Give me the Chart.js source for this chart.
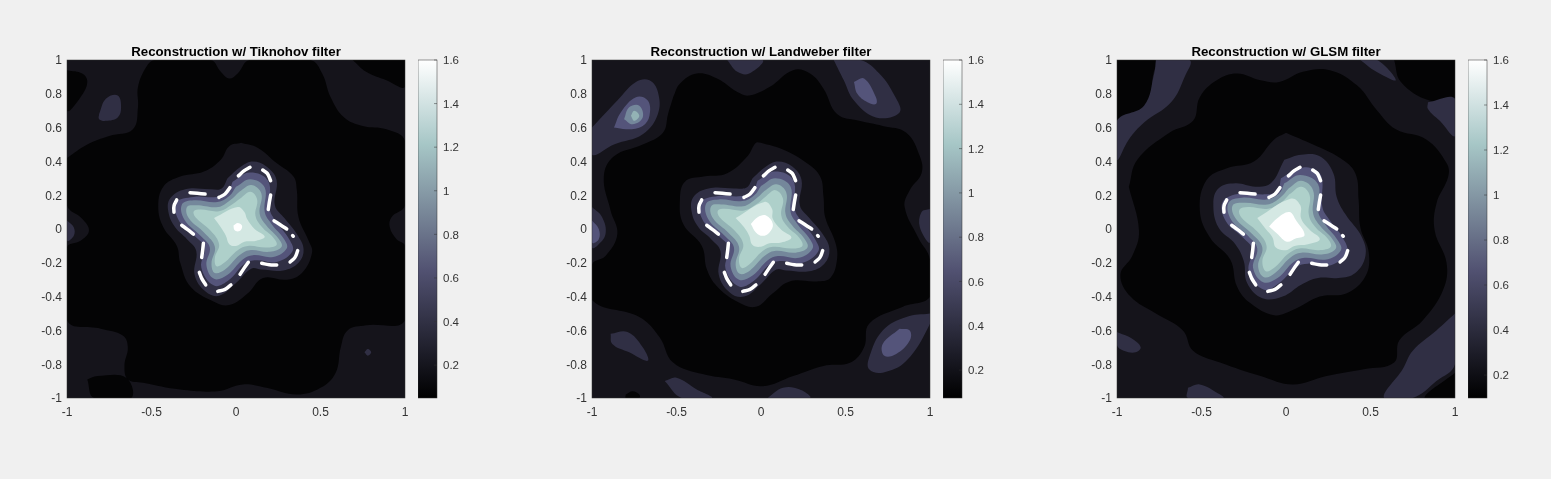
<!DOCTYPE html>
<html>
<head>
<meta charset="utf-8">
<title>Reconstruction filters</title>
<script src="https://cdn.jsdelivr.net/npm/chart.js@4/dist/chart.umd.min.js"></script>
<style>
  html, body { margin: 0; background: #f0f0f0; }
  body { position: relative; width: 1551px; height: 479px; overflow: hidden; }
  canvas { position: absolute; filter: blur(0.4px); }
</style>
</head>
<body>
<script>
//
// Values. Every contour is a list of [x, y] in axis units
//
const titles = ['Reconstruction w/ Tiknohov filter', 'Reconstruction w/ Landweber filter', 'Reconstruction w/ GLSM filter'];
const axisTicksX = [-1, -0.5, 0, 0.5, 1];
const axisTicksY = [-1, -0.8, -0.6, -0.4, -0.2, 0, 0.2, 0.4, 0.6, 0.8, 1];
const colorbarTicks = [0.2, 0.4, 0.6, 0.8, 1, 1.2, 1.4, 1.6];
const colorbarMins = [0.049, 0.074, 0.098];
const colorbarMax = 1.6;
const boneStops = [[0, '#000000'], [0.375, '#515171'], [0.75, '#a6c6c6'], [1, '#ffffff']];
// one fill per contour band: <0.2, 0.2, 0.4, ... 1.6
const bandColors = ['#040405', '#15141b', '#302f44', '#54547a', '#74879b', '#93b3b5', '#aed0ca', '#d4e8e3', '#ffffff'];

// The true boundary, dashed white on all three panels (null = gap between dashes)
const boundaryDashes = [
  [.014,.314],[.049,.345],[.083,.365], null,
  [.158,.349],[.185,.329],[.205,.286], null,
  [.205,.201],[.197,.156],[.191,.116], null,
  [.225,.049],[.264,.024],[.300,0], null,
  [.335,-.039],[.339,-.043], null,
  [.365,-.128],[.349,-.168],[.320,-.195], null,
  [.241,-.213],[.197,-.211],[.152,-.203], null,
  [.073,-.197],[.047,-.233],[.024,-.268], null,
  [-.030,-.331],[-.065,-.357],[-.108,-.369], null,
  [-.179,-.331],[-.203,-.292],[-.217,-.256], null,
  [-.203,-.168],[-.197,-.124],[-.193,-.085], null,
  [-.252,-.030],[-.288,-.002],[-.321,.022], null,
  [-.367,.099],[-.367,.136],[-.351,.172], null,
  [-.272,.215],[-.229,.211],[-.183,.207], null,
  [-.101,.187],[-.065,.207],[-.036,.245]
];

// Tikhonov panel
const tikBlackMain = [[-1,.42],[-.88,.50],[-.75,.55],[-.61,.59],[-.58,.72],[-.58,.84],[-.53,.96],[-.48,1],[-.15,1],[-.09,.93],[-.04,.89],[.01,.92],[.08,1],[.44,1],[.51,.92],[.56,.78],[.64,.66],[.75,.61],[.89,.59],[1,.52],[1,.14],[.92,.07],[.91,.01],[.95,-.06],[1,-.10],[1,-.54],[.77,-.57],[.66,-.60],[.62,-.70],[.59,-.85],[.50,-.94],[.36,-.98],[.18,-.94],[.04,-.92],[-.11,-.96],[-.33,-.95],[-.55,-.91],[-.64,-.89],[-.66,-.81],[-.64,-.70],[-.67,-.63],[-.80,-.59],[-1,-.54],[-1,-.11],[-.92,-.07],[-.87,-.01],[-.91,.06],[-1,.14]];
const tikBlackTopLeft = [[-1,.94],[-.91,.92],[-.88,.87],[-.92,.78],[-1,.70]];
const tikBlackTopRight = [[.69,1],[.77,.93],[.89,.88],[1,.84],[1,1]];
const tikBlackBottom = [[-.88,-.89],[-.82,-.87],[-.65,-.88],[-.62,-1],[-.84,-1]];
const tikIslandUpper = [[-.81,.68],[-.77,.77],[-.70,.79],[-.68,.72],[-.70,.66],[-.77,.64],[-.81,.65]];
const tikIslandLeft = [[-1,.05],[-.96,.01],[-.96,-.04],[-1,-.07]];
const tikIslandSpot = [[.76,-.73],[.78,-.71],[.80,-.73],[.78,-.75]];
const tikLevel02 = [[.03,.51],[.13,.48],[.24,.39],[.34,.31],[.36,.23],[.37,.07],[.43,-.07],[.45,-.14],[.39,-.26],[.30,-.30],[.16,-.29],[.07,-.38],[-.04,-.45],[-.13,-.43],[-.27,-.34],[-.33,-.20],[-.35,-.10],[-.43,.01],[-.46,.13],[-.43,.25],[-.33,.31],[-.19,.34],[-.09,.41],[-.04,.49],[.03,.51]];
const tikLevel04 = [[-.05,.30],[.03,.37],[.10,.40],[.18,.37],[.24,.29],[.23,.14],[.29,.06],[.36,-.03],[.40,-.12],[.37,-.2],[.28,-.245],[.15,-.24],[.09,-.235],[0,-.32],[-.10,-.395],[-.18,-.37],[-.245,-.27],[-.235,-.13],[-.29,-.06],[-.36,.01],[-.40,.10],[-.39,.18],[-.30,.235],[-.15,.235],[-.085,.24]];
const tikLevel06 = [[-.02,.28],[.08,.335],[.19,.285],[.20,.115],[.24,.04],[.315,-.06],[.335,-.13],[.24,-.195],[.12,-.185],[.05,-.205],[-.04,-.30],[-.13,-.335],[-.205,-.23],[-.185,-.11],[-.235,-.05],[-.335,.045],[-.355,.155],[-.25,.19],[-.115,.19],[-.045,.225]];
const tikLevel08 = [[0,.25],[.085,.295],[.17,.245],[.17,.10],[.21,.03],[.285,-.06],[.30,-.115],[.22,-.165],[.10,-.155],[.04,-.18],[-.05,-.27],[-.13,-.295],[-.175,-.215],[-.155,-.11],[-.21,-.04],[-.305,.055],[-.32,.145],[-.25,.17],[-.11,.16],[-.04,.195]];
const tikLevel10 = [[.02,.22],[.09,.26],[.15,.21],[.14,.09],[.18,.02],[.25,-.055],[.27,-.105],[.20,-.135],[.08,-.125],[.02,-.155],[-.065,-.24],[-.125,-.26],[-.145,-.205],[-.125,-.105],[-.185,-.025],[-.28,.065],[-.29,.13],[-.235,.14],[-.105,.13],[-.035,.17]];
const tikLevel12 = [[.025,.18],[.085,.22],[.125,.175],[.115,.08],[.155,.01],[.22,-.05],[.24,-.095],[.18,-.11],[.07,-.10],[.01,-.125],[-.07,-.20],[-.115,-.22],[-.125,-.17],[-.10,-.09],[-.15,-.01],[-.24,.07],[-.25,.105],[-.21,.115],[-.10,.105],[-.03,.14]];
const tikLevel14 = [[-.13,.065],[.01,.13],[.05,.10],[.065,.06],[.11,0],[.17,-.045],[.12,-.07],[.05,-.075],[0,-.10],[-.04,-.09],[-.06,-.04],[-.09,.01]];
const tikLevel16 = [[-.015,.02],[.01,.035],[.035,.02],[.03,-.005],[.01,-.015],[-.01,-.005]];

// Landweber panel
const lanBlackMain = [[-.52,.78],[-.48,.86],[-.38,.92],[-.26,.89],[-.14,.81],[-.07,.79],[.05,.84],[.19,.94],[.29,.92],[.37,.83],[.45,.68],[.58,.64],[.72,.61],[.86,.57],[.94,.43],[.95,.33],[.88,.23],[.85,.13],[.93,-.05],[1,-.18],[1,-.40],[.84,-.46],[.64,-.56],[.61,-.70],[.53,-.79],[.37,-.81],[.19,-.87],[.01,-.93],[-.16,-.89],[-.34,-.86],[-.52,-.79],[-.60,-.64],[-.72,-.52],[-1,-.42],[-1,-.21],[-.92,-.16],[-.85,-.03],[-.89,.11],[-.93,.31],[-.87,.43],[-.70,.50],[-.58,.57],[-.55,.68]];
const lanBlackBottom = [[-.80,-.98],[-.76,-.96],[-.72,-.98],[-.72,-1],[-.80,-1]];
const lanUpperLeft04 = [[-1,.60],[-.85,.76],[-.74,.87],[-.66,.88],[-.61,.81],[-.61,.68],[-.70,.56],[-.87,.50],[-1,.44]];
const lanUpperLeft06 = [[-.87,.60],[-.83,.69],[-.74,.78],[-.67,.76],[-.66,.67],[-.70,.61],[-.79,.59]];
const lanUpperLeft08 = [[-.81,.65],[-.78,.72],[-.72,.73],[-.70,.66],[-.76,.62]];
const lanUpperLeft10 = [[-.77,.67],[-.75,.70],[-.72,.67],[-.75,.64]];
const lanUpperRight04 = [[.43,1],[.49,.88],[.55,.76],[.68,.66],[.82,.69],[.79,.79],[.70,.92],[.59,1]];
const lanUpperRight06 = [[.55,.87],[.61,.89],[.68,.78],[.68,.74],[.63,.75],[.57,.80]];
const lanTop04 = [[-.20,1],[.01,1],[-.07,.92],[-.14,.93]];
const lanLeft04 = [[-1,.13],[-.94,.07],[-.92,-.03],[-.97,-.10],[-1,-.11]];
const lanLeft06 = [[-1,.05],[-.96,0],[-.96,-.06],[-1,-.08]];
const lanRight04 = [[1,.12],[.95,.10],[.94,.01],[1,-.08]];
const lanLowerLeft04 = [[-.89,-.62],[-.79,-.61],[-.70,-.70],[-.67,-.78],[-.78,-.73],[-.88,-.68]];
const lanLowerRight04 = [[1,-.50],[.86,-.52],[.72,-.60],[.64,-.76],[.64,-.83],[.72,-.85],[.86,-.78],[1,-.56]];
const lanLowerRight06 = [[.82,-.59],[.88,-.60],[.88,-.66],[.80,-.74],[.73,-.75],[.72,-.68]];
const lanBottomLeft04 = [[-.57,-.90],[-.50,-.88],[-.38,-.95],[-.29,-1],[-.47,-1]];
const lanBottomMid04 = [[.04,-1],[.13,-.94],[.23,-.95],[.29,-1]];
const lanLevel02 = [[0,.51],[.13,.47],[.27,.39],[.35,.31],[.37,.19],[.38,.07],[.44,-.08],[.45,-.18],[.41,-.29],[.33,-.31],[.17,-.31],[.07,-.38],[-.03,-.46],[-.14,-.43],[-.26,-.34],[-.32,-.24],[-.35,-.10],[-.46,.03],[-.48,.17],[-.45,.28],[-.34,.31],[-.20,.33],[-.08,.43],[-.03,.51],[0,.51]];
const lanLevel04 = [[-.05,.30],[.03,.37],[.10,.40],[.185,.37],[.24,.29],[.23,.14],[.29,.06],[.365,-.03],[.405,-.12],[.375,-.205],[.285,-.25],[.15,-.245],[.09,-.24],[0,-.325],[-.10,-.40],[-.185,-.375],[-.25,-.27],[-.24,-.13],[-.295,-.06],[-.37,.01],[-.41,.10],[-.40,.19],[-.31,.24],[-.15,.24],[-.085,.245]];
const lanLevel06 = [[-.02,.285],[.08,.34],[.19,.29],[.20,.115],[.245,.04],[.32,-.06],[.34,-.13],[.245,-.20],[.12,-.19],[.05,-.21],[-.04,-.305],[-.13,-.34],[-.21,-.235],[-.19,-.11],[-.24,-.05],[-.34,.045],[-.36,.155],[-.255,.195],[-.115,.195],[-.045,.23]];
const lanLevel08 = [[0,.255],[.085,.30],[.175,.25],[.175,.10],[.215,.03],[.29,-.06],[.305,-.115],[.225,-.17],[.10,-.16],[.04,-.185],[-.05,-.275],[-.13,-.30],[-.18,-.22],[-.16,-.11],[-.215,-.04],[-.31,.055],[-.325,.15],[-.25,.175],[-.11,.165],[-.04,.20]];
const lanLevel10 = [[.02,.225],[.09,.265],[.15,.215],[.145,.09],[.185,.02],[.255,-.055],[.275,-.11],[.205,-.14],[.08,-.13],[.02,-.16],[-.065,-.245],[-.125,-.265],[-.15,-.21],[-.13,-.105],[-.19,-.025],[-.285,.065],[-.295,.135],[-.235,.145],[-.105,.135],[-.035,.175]];
const lanLevel12 = [[.025,.19],[.085,.23],[.13,.18],[.12,.08],[.16,.01],[.225,-.05],[.245,-.10],[.185,-.115],[.07,-.105],[.01,-.13],[-.07,-.21],[-.115,-.23],[-.13,-.175],[-.105,-.09],[-.155,-.01],[-.245,.07],[-.255,.11],[-.215,.12],[-.10,.11],[-.03,.145]];
const lanLevel14 = [[-.15,.065],[.02,.16],[.065,.12],[.07,.06],[.12,-.005],[.18,-.05],[.12,-.08],[.05,-.085],[0,-.105],[-.05,-.095],[-.07,-.04],[-.10,.01]];
const lanLevel16 = [[-.06,.03],[-.02,.07],[.03,.08],[.07,.03],[.05,-.02],[.01,-.04],[-.03,-.02]];

// GLSM panel
const glsBlackMain = [[-.93,.25],[-.88,.41],[-.69,.57],[-.55,.64],[-.51,.78],[-.41,.88],[-.29,.92],[-.15,.88],[-.04,.87],[.10,.93],[.26,.94],[.42,.85],[.54,.70],[.65,.59],[.83,.53],[.95,.39],[.96,.31],[.89,.15],[.88,-.01],[.95,-.20],[.93,-.36],[.81,-.54],[.67,-.66],[.64,-.79],[.46,-.83],[.24,-.87],[.04,-.92],[-.15,-.87],[-.39,-.79],[-.55,-.72],[-.61,-.60],[-.77,-.50],[-.92,-.40],[-.98,-.27],[-.91,-.16],[-.87,-.01]];
const glsBlackTopLeft = [[-1,1],[-.75,1],[-.78,.94],[-.83,.72],[-1,.65]];
const glsBlackTopRight = [[.64,1],[1,1],[1,.77],[.85,.76],[.68,.87]];
const glsBlackCorner = [[1,-.85],[.82,-1],[1,-1]];
const glsUpperLeft04 = [[-.77,1],[-.57,1],[-.60,.90],[-.68,.75],[-.84,.63],[-.93,.53],[-1,.41],[-1,.64],[-.84,.73],[-.78,.92]];
const glsTopRight04 = [[.44,1],[.54,1],[.65,.88],[.52,.94]];
const glsRight04 = [[.84,.75],[1,.77],[1,.55],[.91,.64],[.84,.71]];
const glsLowerRight04 = [[1,-.50],[.89,-.60],[.75,-.72],[.69,-.83],[.58,-1],[.75,-1],[.89,-.90],[1,-.80]];
const glsLowerLeft04 = [[-1,-.61],[-.91,-.65],[-.86,-.70],[-.89,-.73],[-.96,-.72],[-1,-.69]];
const glsBottom04 = [[-.58,-.94],[-.51,-.92],[-.39,-.98],[-.37,-1],[-.58,-1]];
const glsLevel02 = [[0,.57],[.16,.50],[.32,.42],[.41,.33],[.43,.17],[.44,.01],[.49,-.14],[.47,-.28],[.36,-.38],[.20,-.40],[.04,-.48],[-.07,-.51],[-.21,-.44],[-.29,-.34],[-.33,-.18],[-.45,-.05],[-.51,.11],[-.47,.29],[-.35,.36],[-.19,.40],[-.07,.53],[0,.57]];
const glsLevel04 = [[-.01,.41],[.09,.44],[.20,.43],[.28,.33],[.30,.19],[.35,.09],[.45,-.05],[.47,-.16],[.41,-.26],[.31,-.29],[.19,-.29],[.09,-.33],[-.02,-.40],[-.14,-.41],[-.23,-.32],[-.25,-.19],[-.30,-.09],[-.40,.01],[-.43,.15],[-.40,.24],[-.30,.27],[-.18,.25],[-.09,.27]];
const glsLevel06 = [[-.03,.30],[.07,.355],[.15,.36],[.21,.31],[.215,.13],[.26,.05],[.335,-.05],[.36,-.135],[.265,-.215],[.13,-.205],[.06,-.225],[-.04,-.32],[-.13,-.36],[-.22,-.25],[-.20,-.12],[-.255,-.05],[-.355,.045],[-.375,.16],[-.27,.21],[-.12,.205],[-.05,.225]];
const glsLevel08 = [[-.01,.27],[.085,.32],[.19,.265],[.19,.105],[.23,.03],[.305,-.065],[.325,-.125],[.24,-.18],[.11,-.17],[.045,-.195],[-.05,-.29],[-.135,-.315],[-.195,-.23],[-.17,-.115],[-.225,-.04],[-.325,.055],[-.34,.155],[-.26,.185],[-.115,.175],[-.04,.21]];
const glsLevel10 = [[.015,.24],[.09,.285],[.16,.23],[.16,.095],[.20,.02],[.275,-.06],[.295,-.115],[.22,-.15],[.09,-.14],[.025,-.17],[-.065,-.26],[-.13,-.285],[-.165,-.22],[-.14,-.11],[-.20,-.03],[-.30,.065],[-.315,.14],[-.245,.155],[-.11,.145],[-.035,.185]];
const glsLevel12 = [[.02,.205],[.09,.25],[.14,.20],[.135,.085],[.175,.01],[.245,-.055],[.265,-.105],[.195,-.125],[.08,-.115],[.015,-.145],[-.07,-.23],[-.12,-.25],[-.14,-.19],[-.115,-.10],[-.17,-.015],[-.265,.07],[-.275,.115],[-.225,.13],[-.105,.12],[-.03,.155]];
const glsLevel14 = [[-.17,.065],[.03,.18],[.085,.14],[.09,.06],[.14,-.005],[.20,-.06],[.13,-.09],[.05,-.10],[0,-.125],[-.06,-.11],[-.08,-.05],[-.12,0]];
const glsLevel16 = [[-.10,.015],[-.05,.065],[.02,.10],[.06,.05],[.11,-.035],[.06,-.055],[.005,-.075],[-.05,-.03]];

// Paint order for each panel: [band, contour], lowest first
const tikRegions = [[0,tikBlackMain],[0,tikBlackTopLeft],[0,tikBlackTopRight],[0,tikBlackBottom],[2,tikIslandUpper],[2,tikIslandLeft],[2,tikIslandSpot],
  [1,tikLevel02],[2,tikLevel04],[3,tikLevel06],[4,tikLevel08],[5,tikLevel10],[6,tikLevel12],[7,tikLevel14],[8,tikLevel16]];
const lanRegions = [[0,lanBlackMain],[0,lanBlackBottom],[2,lanUpperLeft04],[3,lanUpperLeft06],[4,lanUpperLeft08],[5,lanUpperLeft10],[2,lanUpperRight04],[3,lanUpperRight06],[2,lanTop04],[2,lanLeft04],[3,lanLeft06],[2,lanRight04],[2,lanLowerLeft04],[2,lanLowerRight04],[3,lanLowerRight06],[2,lanBottomLeft04],[2,lanBottomMid04],
  [1,lanLevel02],[2,lanLevel04],[3,lanLevel06],[4,lanLevel08],[5,lanLevel10],[6,lanLevel12],[7,lanLevel14],[8,lanLevel16]];
const glsRegions = [[0,glsBlackMain],[0,glsBlackTopLeft],[0,glsBlackTopRight],[0,glsBlackCorner],[2,glsUpperLeft04],[2,glsTopRight04],[2,glsRight04],[2,glsLowerRight04],[2,glsLowerLeft04],[2,glsBottom04],
  [1,glsLevel02],[2,glsLevel04],[3,glsLevel06],[4,glsLevel08],[5,glsLevel10],[6,glsLevel12],[7,glsLevel14],[8,glsLevel16]];
const panelRegions = [tikRegions, lanRegions, glsRegions];

// Left edge of each plot box on the page
const plotLefts = [67, 592, 1117];
const PLOT_TOP = 60, PLOT_SIZE = 338, BAR_GAP = 13, BAR_WIDTH = 19;
const AXIS_COLOR = '#333333';
const FONT = '"Liberation Sans", Arial, sans-serif';

function makeCanvas(left, top, width, height) {
  let c = document.createElement('canvas');
  c.width = width;
  c.height = height;
  c.style.left = left + 'px';
  c.style.top = top + 'px';
  document.body.appendChild(c);
  return c;
}

function toPoints(list) {
  return list.map(p => p ? {x: p[0], y: p[1]} : {x: null, y: null});
}

// Box round the plot, plus the ring band as the plot's base colour
const plotFrame = {
  id: 'plotFrame',
  beforeDatasetsDraw(chart) {
    let a = chart.chartArea;
    chart.ctx.fillStyle = bandColors[1];
    chart.ctx.fillRect(a.left, a.top, a.width, a.height);
  },
  afterDraw(chart) {
    let a = chart.chartArea;
    chart.ctx.strokeStyle = AXIS_COLOR;
    chart.ctx.lineWidth = 0.5;
    chart.ctx.strokeRect(a.left, a.top, a.width, a.height);
  }
};

// Colorbar box and its short inward ticks
const barFrame = {
  id: 'barFrame',
  afterDraw(chart) {
    let a = chart.chartArea, ctx = chart.ctx, y = chart.scales.y;
    ctx.strokeStyle = AXIS_COLOR;
    ctx.lineWidth = 0.5;
    ctx.strokeRect(a.left, a.top, a.width, a.height);
    colorbarTicks.forEach(v => {
      let py = y.getPixelForValue(v);
      ctx.beginPath();
      ctx.moveTo(a.right - 3, py);
      ctx.lineTo(a.right, py);
      ctx.stroke();
    });
  }
};

function fixedAxis(size, isX) {
  return function(scale) {
    if (isX) scale.height = size; else scale.width = size;
    scale.paddingLeft = scale.paddingRight = scale.paddingTop = scale.paddingBottom = 0;
  };
}

function drawPanel(i) {
  let left = plotLefts[i];
  let datasets = panelRegions[i].map(r => ({
    data: toPoints(r[1].concat([r[1][0]])),
    showLine: true,
    fill: 'shape',
    tension: 0.4,
    pointRadius: 0,
    borderWidth: 0,
    backgroundColor: bandColors[r[0]],
    borderColor: 'transparent'
  }));
  datasets.push({
    data: toPoints(boundaryDashes),
    showLine: true,
    fill: false,
    tension: 0.4,
    pointRadius: 0,
    borderWidth: 3.5,
    borderCapStyle: 'round',
    borderColor: '#ffffff',
    spanGaps: false
  });
  // Chart.js paints the first dataset last
  datasets.reverse();

  new Chart(makeCanvas(left - 50, PLOT_TOP - 30, 50 + PLOT_SIZE + 10, 30 + PLOT_SIZE + 24), {
    type: 'scatter',
    data: { datasets: datasets },
    plugins: [plotFrame],
    options: {
      responsive: false,
      animation: false,
      layout: { padding: { right: 10 } },
      plugins: {
        legend: { display: false },
        tooltip: { enabled: false },
        title: {
          display: true,
          fullSize: false,
          text: titles[i],
          color: '#000000',
          font: { family: FONT, size: 13.25, weight: 'bold', lineHeight: 1.2 },
          padding: { top: 14, bottom: 0.1 }
        }
      },
      scales: {
        x: {
          min: -1, max: 1,
          grid: { display: false, drawTicks: false },
          border: { display: false },
          afterBuildTicks: s => { s.ticks = axisTicksX.map(v => ({value: v})); },
          afterFit: fixedAxis(24, true),
          ticks: { color: AXIS_COLOR, padding: 7, maxRotation: 0, autoSkip: false, font: { family: FONT, size: 12 }, callback: v => String(v) }
        },
        y: {
          min: -1, max: 1,
          grid: { display: false, drawTicks: false },
          border: { display: false },
          afterBuildTicks: s => { s.ticks = axisTicksY.map(v => ({value: v})); },
          afterFit: fixedAxis(50, false),
          ticks: { color: AXIS_COLOR, padding: 5, labelOffset: 1, autoSkip: false, font: { family: FONT, size: 12 }, callback: v => String(v) }
        }
      }
    }
  });

  // Colorbar: one floating bar through the bone colormap
  let barMin = colorbarMins[i];
  new Chart(makeCanvas(left + PLOT_SIZE + BAR_GAP, PLOT_TOP - 8, BAR_WIDTH + 40, PLOT_SIZE + 16), {
    type: 'bar',
    data: {
      labels: ['colorbar'],
      datasets: [{
        data: [[barMin, colorbarMax]],
        barPercentage: 1,
        categoryPercentage: 1,
        backgroundColor(ctx) {
          let a = ctx.chart.chartArea;
          if (!a) return '#000000';
          let g = ctx.chart.ctx.createLinearGradient(0, a.bottom, 0, a.top);
          boneStops.forEach(s => g.addColorStop(s[0], s[1]));
          return g;
        }
      }]
    },
    plugins: [barFrame],
    options: {
      responsive: false,
      animation: false,
      layout: { padding: { top: 8, bottom: 8 } },
      plugins: { legend: { display: false }, tooltip: { enabled: false } },
      scales: {
        x: { display: false, afterFit: fixedAxis(0, true) },
        y: {
          position: 'right',
          min: barMin, max: colorbarMax,
          grid: { display: false, drawTicks: false },
          border: { display: false },
          afterBuildTicks: s => { s.ticks = colorbarTicks.map(v => ({value: v})); },
          afterFit: fixedAxis(40, false),
          ticks: { color: AXIS_COLOR, padding: 6, labelOffset: 1, autoSkip: false, font: { family: FONT, size: 11.5 }, callback: v => String(v) }
        }
      }
    }
  });
}

// START HERE
titles.forEach((t, i) => drawPanel(i));
</script>
</body>
</html>
